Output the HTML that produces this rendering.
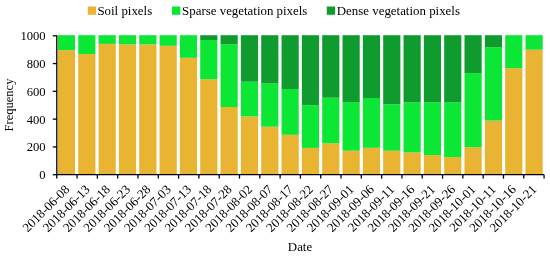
<!DOCTYPE html><html><head><meta charset="utf-8"><title>Chart</title><style>html,body{margin:0;padding:0;background:#fff;overflow:hidden}svg{display:block}text{font-family:"Liberation Serif","Times New Roman",serif;fill:#000}</style></head><body>
<svg width="550" height="259" viewBox="0 0 550 259">
<rect width="550" height="259" fill="#fff"/>
<rect x="57.90" y="50.20" width="17.2" height="124.50" fill="#E8B431"/>
<rect x="57.90" y="35.20" width="17.2" height="15.00" fill="#0CE735"/>
<rect x="78.23" y="54.00" width="17.2" height="120.70" fill="#E8B431"/>
<rect x="78.23" y="35.20" width="17.2" height="18.80" fill="#0CE735"/>
<rect x="98.56" y="43.90" width="17.2" height="130.80" fill="#E8B431"/>
<rect x="98.56" y="35.20" width="17.2" height="8.70" fill="#0CE735"/>
<rect x="118.89" y="44.40" width="17.2" height="130.30" fill="#E8B431"/>
<rect x="118.89" y="35.20" width="17.2" height="9.20" fill="#0CE735"/>
<rect x="139.22" y="44.40" width="17.2" height="130.30" fill="#E8B431"/>
<rect x="139.22" y="35.20" width="17.2" height="9.20" fill="#0CE735"/>
<rect x="159.55" y="45.80" width="17.2" height="128.90" fill="#E8B431"/>
<rect x="159.55" y="35.20" width="17.2" height="10.60" fill="#0CE735"/>
<rect x="179.88" y="57.80" width="17.2" height="116.90" fill="#E8B431"/>
<rect x="179.88" y="35.20" width="17.2" height="22.60" fill="#0CE735"/>
<rect x="200.21" y="79.30" width="17.2" height="95.40" fill="#E8B431"/>
<rect x="200.21" y="40.00" width="17.2" height="39.30" fill="#0CE735"/>
<rect x="200.21" y="35.20" width="17.2" height="4.80" fill="#109B2E"/>
<rect x="220.54" y="107.00" width="17.2" height="67.70" fill="#E8B431"/>
<rect x="220.54" y="44.30" width="17.2" height="62.70" fill="#0CE735"/>
<rect x="220.54" y="35.20" width="17.2" height="9.10" fill="#109B2E"/>
<rect x="240.87" y="116.40" width="17.2" height="58.30" fill="#E8B431"/>
<rect x="240.87" y="81.70" width="17.2" height="34.70" fill="#0CE735"/>
<rect x="240.87" y="35.20" width="17.2" height="46.50" fill="#109B2E"/>
<rect x="261.20" y="126.70" width="17.2" height="48.00" fill="#E8B431"/>
<rect x="261.20" y="83.50" width="17.2" height="43.20" fill="#0CE735"/>
<rect x="261.20" y="35.20" width="17.2" height="48.30" fill="#109B2E"/>
<rect x="281.53" y="134.80" width="17.2" height="39.90" fill="#E8B431"/>
<rect x="281.53" y="89.00" width="17.2" height="45.80" fill="#0CE735"/>
<rect x="281.53" y="35.20" width="17.2" height="53.80" fill="#109B2E"/>
<rect x="301.86" y="147.90" width="17.2" height="26.80" fill="#E8B431"/>
<rect x="301.86" y="105.20" width="17.2" height="42.70" fill="#0CE735"/>
<rect x="301.86" y="35.20" width="17.2" height="70.00" fill="#109B2E"/>
<rect x="322.19" y="143.30" width="17.2" height="31.40" fill="#E8B431"/>
<rect x="322.19" y="97.70" width="17.2" height="45.60" fill="#0CE735"/>
<rect x="322.19" y="35.20" width="17.2" height="62.50" fill="#109B2E"/>
<rect x="342.52" y="150.70" width="17.2" height="24.00" fill="#E8B431"/>
<rect x="342.52" y="102.10" width="17.2" height="48.60" fill="#0CE735"/>
<rect x="342.52" y="35.20" width="17.2" height="66.90" fill="#109B2E"/>
<rect x="362.85" y="147.80" width="17.2" height="26.90" fill="#E8B431"/>
<rect x="362.85" y="98.00" width="17.2" height="49.80" fill="#0CE735"/>
<rect x="362.85" y="35.20" width="17.2" height="62.80" fill="#109B2E"/>
<rect x="383.18" y="150.70" width="17.2" height="24.00" fill="#E8B431"/>
<rect x="383.18" y="104.30" width="17.2" height="46.40" fill="#0CE735"/>
<rect x="383.18" y="35.20" width="17.2" height="69.10" fill="#109B2E"/>
<rect x="403.51" y="152.40" width="17.2" height="22.30" fill="#E8B431"/>
<rect x="403.51" y="102.20" width="17.2" height="50.20" fill="#0CE735"/>
<rect x="403.51" y="35.20" width="17.2" height="67.00" fill="#109B2E"/>
<rect x="423.84" y="155.10" width="17.2" height="19.60" fill="#E8B431"/>
<rect x="423.84" y="102.20" width="17.2" height="52.90" fill="#0CE735"/>
<rect x="423.84" y="35.20" width="17.2" height="67.00" fill="#109B2E"/>
<rect x="444.17" y="157.10" width="17.2" height="17.60" fill="#E8B431"/>
<rect x="444.17" y="102.20" width="17.2" height="54.90" fill="#0CE735"/>
<rect x="444.17" y="35.20" width="17.2" height="67.00" fill="#109B2E"/>
<rect x="464.50" y="147.20" width="17.2" height="27.50" fill="#E8B431"/>
<rect x="464.50" y="73.10" width="17.2" height="74.10" fill="#0CE735"/>
<rect x="464.50" y="35.20" width="17.2" height="37.90" fill="#109B2E"/>
<rect x="484.83" y="120.60" width="17.2" height="54.10" fill="#E8B431"/>
<rect x="484.83" y="47.20" width="17.2" height="73.40" fill="#0CE735"/>
<rect x="484.83" y="35.20" width="17.2" height="12.00" fill="#109B2E"/>
<rect x="505.16" y="68.20" width="17.2" height="106.50" fill="#E8B431"/>
<rect x="505.16" y="35.20" width="17.2" height="33.00" fill="#0CE735"/>
<rect x="525.49" y="49.70" width="17.2" height="125.00" fill="#E8B431"/>
<rect x="525.49" y="35.20" width="17.2" height="14.50" fill="#0CE735"/>
<g stroke="#000" stroke-width="1.3" fill="none">
<path d="M56.8 35.2 V174.7 H544.1"/>
<path d="M52.8 174.70 H56.8"/>
<path d="M52.8 146.92 H56.8"/>
<path d="M52.8 119.14 H56.8"/>
<path d="M52.8 91.36 H56.8"/>
<path d="M52.8 63.58 H56.8"/>
<path d="M52.8 35.80 H56.8"/>
<path d="M56.76 174.7 V178.6"/>
<path d="M77.06 174.7 V178.6"/>
<path d="M97.37 174.7 V178.6"/>
<path d="M117.67 174.7 V178.6"/>
<path d="M137.98 174.7 V178.6"/>
<path d="M158.28 174.7 V178.6"/>
<path d="M178.59 174.7 V178.6"/>
<path d="M198.89 174.7 V178.6"/>
<path d="M219.20 174.7 V178.6"/>
<path d="M239.50 174.7 V178.6"/>
<path d="M259.81 174.7 V178.6"/>
<path d="M280.12 174.7 V178.6"/>
<path d="M300.42 174.7 V178.6"/>
<path d="M320.72 174.7 V178.6"/>
<path d="M341.03 174.7 V178.6"/>
<path d="M361.33 174.7 V178.6"/>
<path d="M381.64 174.7 V178.6"/>
<path d="M401.94 174.7 V178.6"/>
<path d="M422.25 174.7 V178.6"/>
<path d="M442.56 174.7 V178.6"/>
<path d="M462.86 174.7 V178.6"/>
<path d="M483.16 174.7 V178.6"/>
<path d="M503.47 174.7 V178.6"/>
<path d="M523.77 174.7 V178.6"/>
<path d="M544.08 174.7 V178.6"/>
</g>
<text x="45.6" y="179.20" font-size="12.6" text-anchor="end">0</text>
<text x="45.6" y="151.42" font-size="12.6" text-anchor="end">200</text>
<text x="45.6" y="123.64" font-size="12.6" text-anchor="end">400</text>
<text x="45.6" y="95.86" font-size="12.6" text-anchor="end">600</text>
<text x="45.6" y="68.08" font-size="12.6" text-anchor="end">800</text>
<text x="45.6" y="40.30" font-size="12.6" text-anchor="end">1000</text>
<text transform="translate(70.21 190.2) rotate(-45)" font-size="12.9" text-anchor="end">2018-06-08</text>
<text transform="translate(90.52 190.2) rotate(-45)" font-size="12.9" text-anchor="end">2018-06-13</text>
<text transform="translate(110.82 190.2) rotate(-45)" font-size="12.9" text-anchor="end">2018-06-18</text>
<text transform="translate(131.13 190.2) rotate(-45)" font-size="12.9" text-anchor="end">2018-06-23</text>
<text transform="translate(151.43 190.2) rotate(-45)" font-size="12.9" text-anchor="end">2018-06-28</text>
<text transform="translate(171.74 190.2) rotate(-45)" font-size="12.9" text-anchor="end">2018-07-03</text>
<text transform="translate(192.04 190.2) rotate(-45)" font-size="12.9" text-anchor="end">2018-07-13</text>
<text transform="translate(212.35 190.2) rotate(-45)" font-size="12.9" text-anchor="end">2018-07-18</text>
<text transform="translate(232.65 190.2) rotate(-45)" font-size="12.9" text-anchor="end">2018-07-28</text>
<text transform="translate(252.96 190.2) rotate(-45)" font-size="12.9" text-anchor="end">2018-08-02</text>
<text transform="translate(273.26 190.2) rotate(-45)" font-size="12.9" text-anchor="end">2018-08-07</text>
<text transform="translate(293.57 190.2) rotate(-45)" font-size="12.9" text-anchor="end">2018-08-17</text>
<text transform="translate(313.87 190.2) rotate(-45)" font-size="12.9" text-anchor="end">2018-08-22</text>
<text transform="translate(334.18 190.2) rotate(-45)" font-size="12.9" text-anchor="end">2018-08-27</text>
<text transform="translate(354.48 190.2) rotate(-45)" font-size="12.9" text-anchor="end">2018-09-01</text>
<text transform="translate(374.79 190.2) rotate(-45)" font-size="12.9" text-anchor="end">2018-09-06</text>
<text transform="translate(395.09 190.2) rotate(-45)" font-size="12.9" text-anchor="end">2018-09-11</text>
<text transform="translate(415.40 190.2) rotate(-45)" font-size="12.9" text-anchor="end">2018-09-16</text>
<text transform="translate(435.70 190.2) rotate(-45)" font-size="12.9" text-anchor="end">2018-09-21</text>
<text transform="translate(456.01 190.2) rotate(-45)" font-size="12.9" text-anchor="end">2018-09-26</text>
<text transform="translate(476.31 190.2) rotate(-45)" font-size="12.9" text-anchor="end">2018-10-01</text>
<text transform="translate(496.62 190.2) rotate(-45)" font-size="12.9" text-anchor="end">2018-10-11</text>
<text transform="translate(516.92 190.2) rotate(-45)" font-size="12.9" text-anchor="end">2018-10-16</text>
<text transform="translate(537.23 190.2) rotate(-45)" font-size="12.9" text-anchor="end">2018-10-21</text>
<text transform="translate(12.8 105) rotate(-90)" font-size="12.5" text-anchor="middle">Frequency</text>
<text x="300" y="250.5" font-size="12.9" text-anchor="middle">Date</text>
<rect x="87.8" y="6.5" width="8.3" height="8.3" fill="#E8B431"/><text x="97.4" y="14.6" font-size="12.9">Soil pixels</text>
<rect x="172" y="6.5" width="8.3" height="8.3" fill="#0CE735"/><text x="182.1" y="14.6" font-size="12.9">Sparse vegetation pixels</text>
<rect x="326.8" y="6.5" width="8.3" height="8.3" fill="#109B2E"/><text x="336.8" y="14.6" font-size="12.9">Dense vegetation pixels</text>
</svg></body></html>
